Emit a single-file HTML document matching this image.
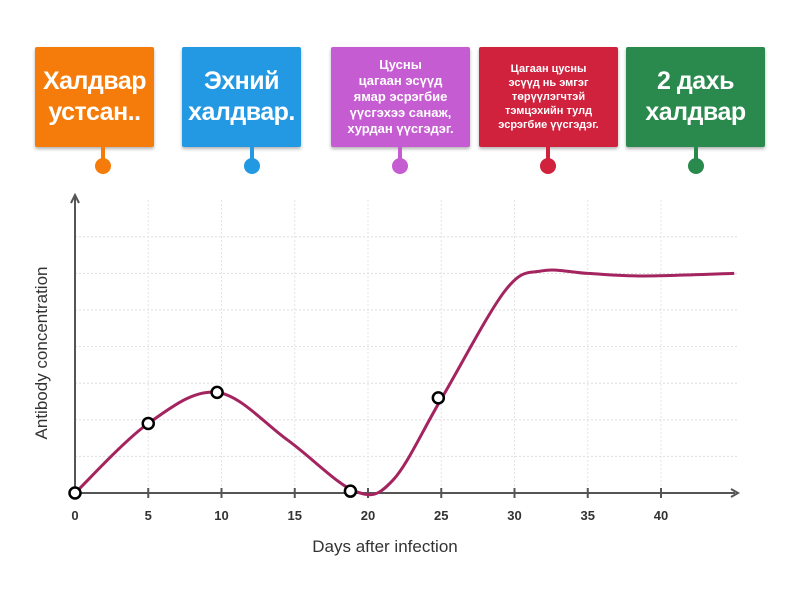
<!DOCTYPE html>
<html><head><meta charset="utf-8"><style>
body{margin:0;width:800px;height:600px;background:#fff;font-family:"Liberation Sans",sans-serif;overflow:hidden;position:relative}
.box{position:absolute;top:47px;height:100px;color:#fff;display:flex;align-items:center;justify-content:center;text-align:center;box-shadow:0 2px 3px rgba(0,0,0,.3);border-radius:2px}
.big{font-size:25px;line-height:31px;font-weight:bold;letter-spacing:-0.5px}
.pin{position:absolute;top:147px;width:4px;height:14px}
.dot{position:absolute;top:158px;width:16px;height:16px;border-radius:50%}
</style></head><body>
<div class="box big" style="left:35px;width:119px;background:#f57c0a">Халдвар<br>устсан..</div>
<div class="box big" style="left:182px;width:119px;background:#2499e3">Эхний<br>халдвар.</div>
<div class="box" style="left:331px;width:139px;background:#c65cd2;font-size:13px;line-height:16px;font-weight:bold">Цусны<br>цагаан эсүүд<br>ямар эсрэгбие<br>үүсгэхээ санаж,<br>хурдан үүсгэдэг.</div>
<div class="box" style="left:479px;width:139px;background:#d0213d;font-size:11px;line-height:14px;font-weight:bold">Цагаан цусны<br>эсүүд нь эмгэг<br>төрүүлэгчтэй<br>тэмцэхийн тулд<br>эсрэгбие үүсгэдэг.</div>
<div class="box big" style="left:626px;width:139px;background:#2a8a4d">2 дахь<br>халдвар</div>
<div class="pin" style="left:101px;background:#f57c0a"></div><div class="dot" style="left:95px;background:#f57c0a"></div>
<div class="pin" style="left:250px;background:#2499e3"></div><div class="dot" style="left:244px;background:#2499e3"></div>
<div class="pin" style="left:398px;background:#c65cd2"></div><div class="dot" style="left:392px;background:#c65cd2"></div>
<div class="pin" style="left:546px;background:#d0213d"></div><div class="dot" style="left:540px;background:#d0213d"></div>
<div class="pin" style="left:694px;background:#2a8a4d"></div><div class="dot" style="left:688px;background:#2a8a4d"></div>
<svg id="chart" width="800" height="600" style="position:absolute;left:0;top:0"></svg>
<script>
const xTicks=[0,5,10,15,20,25,30,35,40];
const gridLevels=[1,2,3,4,5,6,7];
const curveX=[0,5,9.7,14.5,19.1,21.7,25,29.4,31.9,35,38.8,45];
const curveY=[0,1.9,2.75,1.45,0.05,0.35,2.57,5.55,6.07,6.0,5.93,6.0];
const pointX=[0,5,9.7,18.8,24.8];
const pointY=[0,1.9,2.75,0.05,2.6];
const X=v=>75+v*14.65, Y=v=>493-v*36.6;
const svg=document.getElementById('chart');const NS='http://www.w3.org/2000/svg';
function mk(t,a){const e=document.createElementNS(NS,t);for(const k in a)e.setAttribute(k,a[k]);svg.appendChild(e);return e;}
gridLevels.forEach(g=>{const l=mk('line',{x1:75,x2:738,y1:Y(g),y2:Y(g),stroke:'#ddd','stroke-dasharray':'2,2'});

});
xTicks.slice(1).forEach(t=>{const l=mk('line',{x1:X(t),x2:X(t),y1:200,y2:493,stroke:'#e4e4e4','stroke-dasharray':'2,2'});

});
const xa=mk('path',{d:'M73 493H735M731 489L738 493L731 497',stroke:'#555','stroke-width':2,fill:'none'});


const ya=mk('path',{d:'M75 495V197M71 203L75 195L79 203',stroke:'#555','stroke-width':2,fill:'none'});


xTicks.forEach(t=>{const tk=mk('line',{x1:X(t),x2:X(t),y1:488,y2:498,stroke:'#555','stroke-width':2});


const tx=mk('text',{x:X(t),y:520,'text-anchor':'middle','font-size':13,'font-weight':'bold',fill:'#333'});tx.textContent=t;

});
const xt=mk('text',{x:385,y:552,'text-anchor':'middle','font-size':17,fill:'#333'});xt.textContent='Days after infection';


const yt=mk('text',{x:0,y:0,'text-anchor':'middle','font-size':17,fill:'#333',transform:'translate(47,353) rotate(-90)'});yt.textContent='Antibody concentration';


const P=curveX.map((x,i)=>[X(x),Y(curveY[i])]);
let d='M'+P[0][0]+' '+P[0][1];
for(let i=0;i<P.length-1;i++){const p0=P[Math.max(i-1,0)],p1=P[i],p2=P[i+1],p3=P[Math.min(i+2,P.length-1)];
d+=` C${p1[0]+(p2[0]-p0[0])/6} ${p1[1]+(p2[1]-p0[1])/6} ${p2[0]-(p3[0]-p1[0])/6} ${p2[1]-(p3[1]-p1[1])/6} ${p2[0]} ${p2[1]}`;}
const c=mk('path',{d:d,stroke:'#a3245f','stroke-width':3,fill:'none'});


pointX.forEach((x,i)=>{const m=mk('circle',{cx:X(x),cy:Y(pointY[i]),r:5.5,fill:'#fff',stroke:'#000','stroke-width':2.5});

});
</script>
</body></html>
